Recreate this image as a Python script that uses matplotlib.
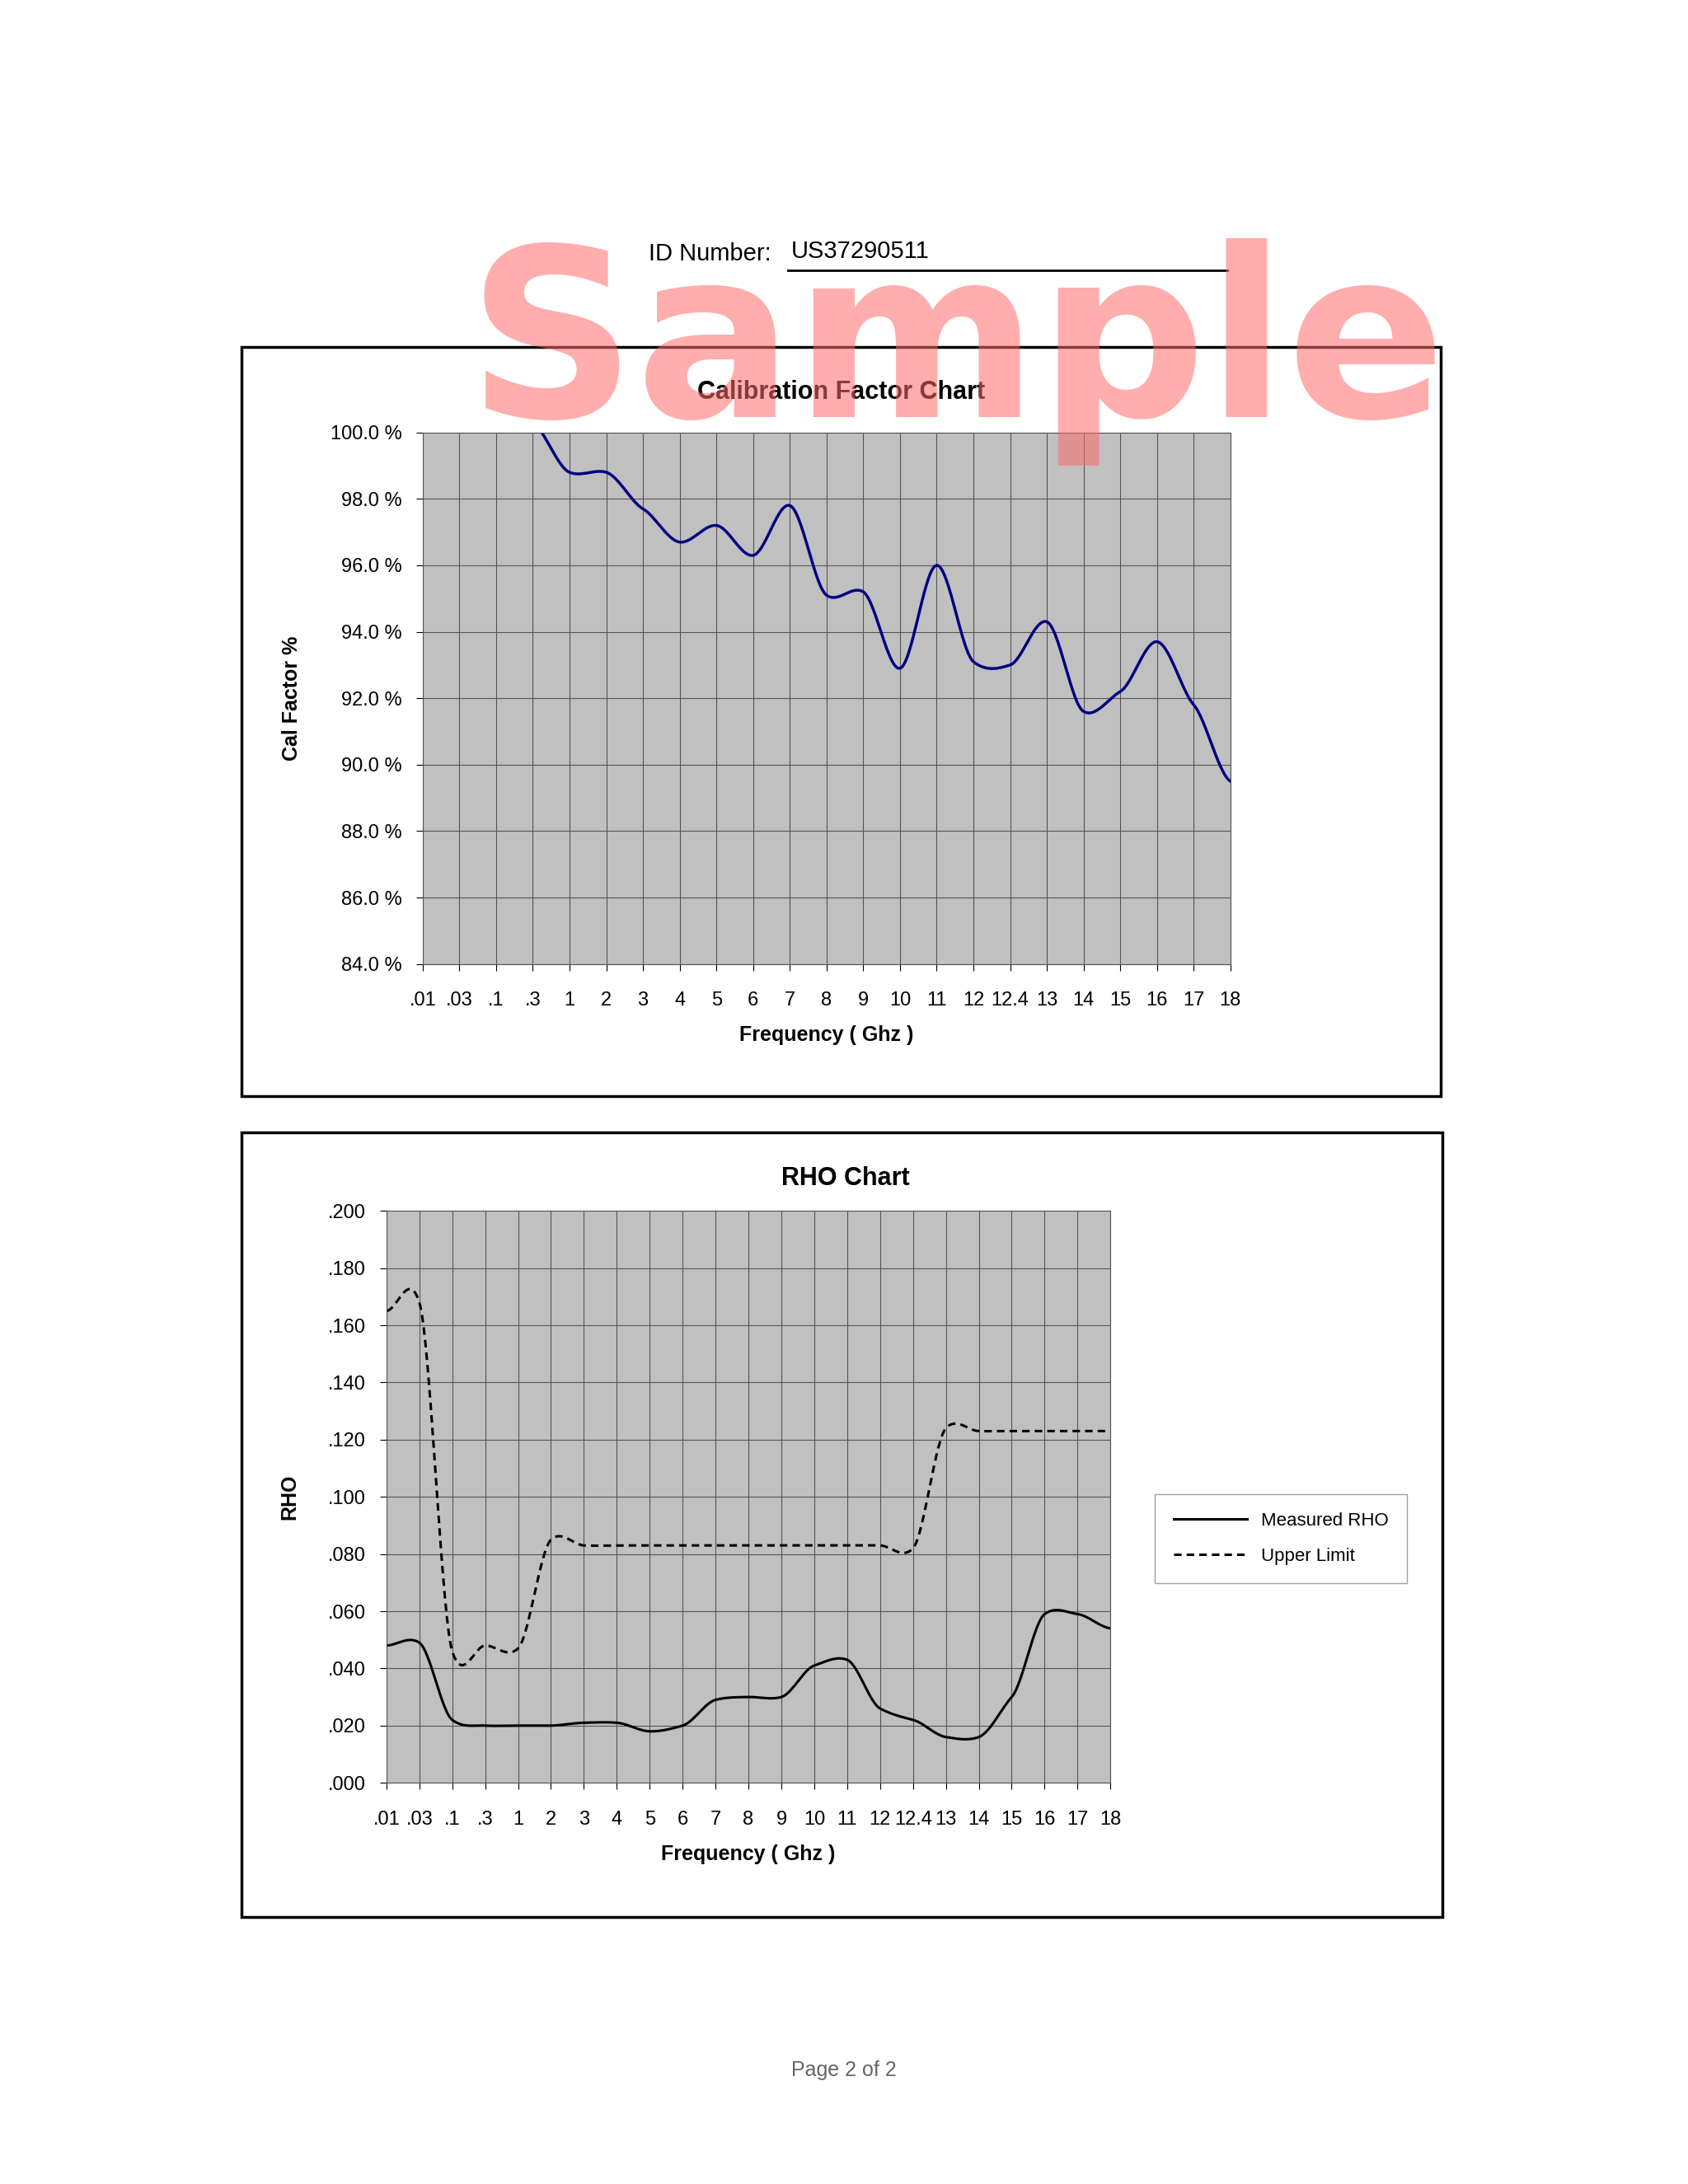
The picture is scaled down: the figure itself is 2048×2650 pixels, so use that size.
import numpy as np
import matplotlib
matplotlib.use('Agg')
import matplotlib.pyplot as plt
from matplotlib.patches import Rectangle

freq_labels = ['.01', '.03', '.1', '.3', '1', '2', '3', '4', '5', '6', '7', '8', '9', '10',
               '11', '12', '12.4', '13', '14', '15', '16', '17', '18']
cal_factor = [101.5, 101.5, 101.2, 100.3, 98.8, 98.8, 97.7, 96.7, 97.2, 96.3, 97.8, 95.1, 95.2,
              92.9, 96.0, 93.1, 93.0, 94.3, 91.6, 92.2, 93.7, 91.8, 89.5]
rho_measured = [.048, .049, .022, .020, .020, .020, .021, .021, .018, .020, .029, .030, .030,
                .041, .043, .026, .022, .016, .016, .030, .059, .059, .054]
rho_limit = [.165, .168, .046, .048, .047, .085, .083, .083, .083, .083, .083, .083, .083,
             .083, .083, .083, .082, .124, .123, .123, .123, .123, .123]

W, H = 1210.0, 1565.6  # reference layout units


def smooth(y, n=30, c=0.6):
    # cardinal Hermite spline through the points (smoothed line)
    y = np.asarray(y, float)
    p = np.concatenate([[y[0]], y, [y[-1]]])
    xs, ys = [], []
    for i in range(len(y) - 1):
        t = np.linspace(0, 1, n, endpoint=False)
        p0, p1, p2, p3 = p[i], p[i + 1], p[i + 2], p[i + 3]
        m1 = c * (p2 - p0) / 2
        m2 = c * (p3 - p1) / 2
        h00 = 2 * t ** 3 - 3 * t ** 2 + 1
        h10 = t ** 3 - 2 * t ** 2 + t
        h01 = -2 * t ** 3 + 3 * t ** 2
        h11 = t ** 3 - t ** 2
        ys.append(h00 * p1 + h10 * m1 + h01 * p2 + h11 * m2)
        xs.append(i + t)
    xs.append([len(y) - 1]); ys.append([y[-1]])
    return np.concatenate(xs), np.concatenate(ys)


def rect(x0, y0, x1, y1):
    return [x0 / W, 1 - y1 / H, (x1 - x0) / W, (y1 - y0) / H]


fig = plt.figure(figsize=(20.48, 26.5), dpi=100)
plt.rcParams['font.family'] = 'Liberation Sans'

# frames
for x0, y0, x1, y1 in [(173, 249, 1033, 786), (173, 812, 1034, 1374)]:
    fig.patches.append(Rectangle((x0 / W, 1 - y1 / H), (x1 - x0) / W, (y1 - y0) / H,
                                 transform=fig.transFigure, fill=False, lw=2.5, ec='black'))

x = np.arange(len(freq_labels))

# Calibration factor chart
ax = fig.add_axes(rect(303, 310, 882, 691))
ax.set_facecolor('#c0c0c0')
sx, sy = smooth(cal_factor)
ax.plot(sx, sy, color='#000080', lw=2.5)
ax.set_xlim(0, len(x) - 1)
ax.set_ylim(84, 100)
ax.set_xticks(x)
ax.set_xticklabels(freq_labels, fontsize=17)
ax.set_yticks(np.arange(84, 100.1, 2))
ax.set_yticklabels(['%.1f %%' % v for v in np.arange(84, 100.1, 2)], fontsize=17)
ax.grid(True, color='#555555', lw=0.8)
ax.tick_params(axis='x', length=6, pad=18)
ax.tick_params(axis='y', length=6, pad=12)
ax.set_xlabel('Frequency ( Ghz )', fontsize=18, fontweight='bold', labelpad=14)
ax.set_ylabel('Cal Factor %', fontsize=18, fontweight='bold', labelpad=25)
for s in ax.spines.values():
    s.set_color('#555555')
fig.text(603 / W, 1 - 281 / H, 'Calibration Factor Chart', fontsize=22, fontweight='bold',
         ha='center', va='center')

# RHO chart
ax2 = fig.add_axes(rect(277, 868, 796, 1278))
ax2.set_facecolor('#c0c0c0')
sx, sy = smooth(rho_measured)
ax2.plot(sx, sy, color='black', lw=2.2, label='Measured RHO')
sx, sy = smooth(rho_limit)
ax2.plot(sx, sy, color='black', lw=2.2, ls=(0, (3, 2)), label='Upper Limit')
ax2.set_xlim(0, len(x) - 1)
ax2.set_ylim(0, 0.2)
ax2.set_xticks(x)
ax2.set_xticklabels(freq_labels, fontsize=17)
yt = np.arange(0, 0.2001, 0.02)
ax2.set_yticks(yt)
ax2.set_yticklabels([('%.3f' % v)[1:] for v in yt], fontsize=17)
ax2.grid(True, color='#555555', lw=0.8)
ax2.tick_params(axis='x', length=6, pad=18)
ax2.tick_params(axis='y', length=6, pad=12)
ax2.set_xlabel('Frequency ( Ghz )', fontsize=18, fontweight='bold', labelpad=14)
ax2.set_ylabel('RHO', fontsize=18, fontweight='bold', labelpad=25)
for s in ax2.spines.values():
    s.set_color('#555555')
fig.text(606 / W, 1 - 845 / H, 'RHO Chart', fontsize=22, fontweight='bold',
         ha='center', va='center')
ax2.legend(loc='center left', bbox_to_anchor=(828 / W, 1 - 1103 / H), bbox_transform=fig.transFigure,
           fontsize=16, frameon=True, fancybox=False, edgecolor='#888888', handlelength=4.0,
           borderpad=1.0, labelspacing=1.0, borderaxespad=0)

# header, watermark, footer
fig.text(465 / W, 1 - 182 / H, 'ID Number:', fontsize=21, va='center')
fig.text(567 / W, 1 - 180 / H, 'US37290511', fontsize=21, va='center')
fig.add_artist(plt.Line2D([565 / W, 880 / W], [1 - 194 / H] * 2, color='black', lw=2))
fig.text(686 / W, 1 - 252 / H, 'Sample', fontsize=205, color='#ff6b6b', alpha=0.55,
         ha='center', va='center', fontfamily='DejaVu Sans', fontweight='bold')
fig.text(605 / W, 1 - 1484 / H, 'Page 2 of 2', fontsize=18, color='#666666', ha='center', va='center')

fig.savefig('out.png', dpi=100)
